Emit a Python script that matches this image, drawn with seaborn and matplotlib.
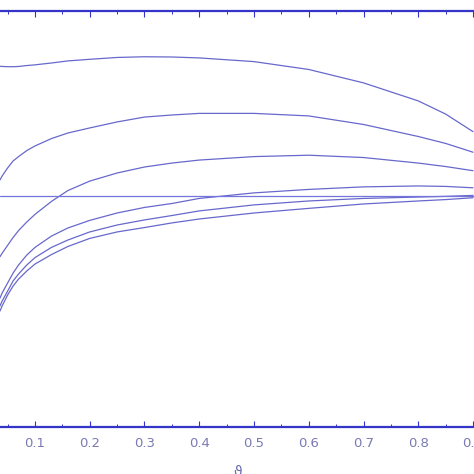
import numpy as np
import pandas as pd
import matplotlib
matplotlib.use("Agg")
import matplotlib.pyplot as plt
import seaborn as sns
from matplotlib.ticker import MultipleLocator

# x positions (theta)
theta = [0.0361, 0.04, 0.05, 0.06, 0.07, 0.085, 0.1, 0.13, 0.16, 0.2, 0.25, 0.3,
         0.35, 0.4, 0.5, 0.6, 0.7, 0.8, 0.85, 0.9]

curve1 = [1.561, 1.560, 1.559, 1.559, 1.560, 1.564, 1.567, 1.575, 1.584, 1.591,
          1.599, 1.602, 1.601, 1.597, 1.581, 1.547, 1.489, 1.411, 1.354, 1.278]
curve2 = [1.069, 1.086, 1.121, 1.151, 1.170, 1.196, 1.216, 1.248, 1.272, 1.294,
          1.320, 1.341, 1.350, 1.357, 1.357, 1.346, 1.309, 1.257, 1.227, 1.189]
curve3 = [0.737, 0.752, 0.786, 0.820, 0.850, 0.887, 0.920, 0.976, 1.023, 1.064,
          1.099, 1.125, 1.142, 1.155, 1.170, 1.176, 1.166, 1.142, 1.127, 1.109]
curve4 = [0.558, 0.580, 0.623, 0.666, 0.701, 0.744, 0.777, 0.826, 0.861, 0.894,
          0.926, 0.950, 0.967, 0.989, 1.013, 1.028, 1.039, 1.043, 1.041, 1.035]
curve5 = [0.524, 0.545, 0.588, 0.632, 0.662, 0.701, 0.733, 0.777, 0.809, 0.844,
          0.874, 0.896, 0.915, 0.935, 0.961, 0.978, 0.989, 0.995, 0.998, 1.002]
curve6 = [0.502, 0.524, 0.571, 0.610, 0.640, 0.675, 0.705, 0.746, 0.781, 0.816,
          0.844, 0.863, 0.883, 0.900, 0.926, 0.946, 0.965, 0.978, 0.984, 0.992]
reference_level = 1.0

xtick_values = [0.1, 0.2, 0.3, 0.4, 0.5, 0.6, 0.7, 0.8, 0.9]
xlabel_text = "ϑ"

curves = {"c1": curve1, "c2": curve2, "c3": curve3,
          "c4": curve4, "c5": curve5, "c6": curve6}
rows = []
for name, vals in curves.items():
    for t, v in zip(theta, vals):
        rows.append({"theta": t, "value": v, "curve": name})
df = pd.DataFrame(rows)

sns.set_style("white")
plt.rcParams["font.family"] = ["DejaVu Sans"]

fig = plt.figure(figsize=(4.74, 4.74), dpi=100)
ax = fig.add_axes([0.0, 47 / 474, 1.0, (427 - 11) / 474])

line_color = "#6868cc"
sns.lineplot(data=df, x="theta", y="value", units="curve", estimator=None,
             color=line_color, linewidth=0.9, ax=ax, legend=False)
ax.axhline(reference_level, color="#7474dd", linewidth=0.9)

ax.set_xlim(0.0361, 0.9018)
ax.set_ylim(0, 1.8)

spine_color = "#3434c8"
for side in ["left", "right"]:
    ax.spines[side].set_visible(False)
for side in ["top", "bottom"]:
    ax.spines[side].set_visible(True)
    ax.spines[side].set_color(spine_color)
    ax.spines[side].set_linewidth(1.6)

ax.xaxis.set_major_locator(MultipleLocator(0.1))
ax.xaxis.set_minor_locator(MultipleLocator(0.05))
ax.set_xticks(xtick_values)
ax.set_xticklabels([f"{v:.1f}" for v in xtick_values])
ax.tick_params(axis="x", which="both", direction="in", top=True, bottom=True,
               color=spine_color, labelcolor="#7a7ab4", labelsize=9.5, pad=7)
ax.tick_params(axis="x", which="major", length=4.5, width=0.8)
ax.tick_params(axis="x", which="minor", length=2.5, width=0.7)
ax.set_yticks([])
ax.set_ylabel("")
ax.set_xlabel(xlabel_text, color="#6a6ab0", fontsize=10, labelpad=11)

fig.savefig("out.png", dpi=100)
